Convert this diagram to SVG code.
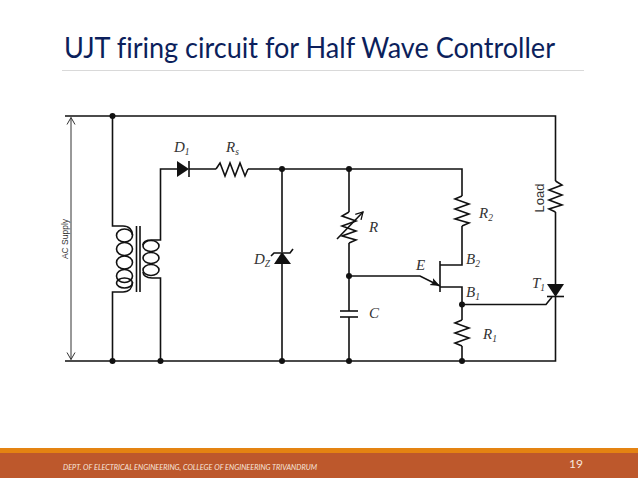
<svg xmlns="http://www.w3.org/2000/svg" width="638" height="478" viewBox="0 0 638 478">
<defs>
<marker id="open" markerWidth="10" markerHeight="10" refX="8" refY="5" orient="auto-start-reverse" markerUnits="userSpaceOnUse"><path d="M1 1L8 5L1 9" fill="none" stroke="#333" stroke-width="1"/></marker>
<marker id="emit" markerWidth="11" markerHeight="10" refX="10" refY="5" orient="auto" markerUnits="userSpaceOnUse"><path d="M0 1L10 5L0 9L2.5 5Z" fill="#111"/></marker>
<marker id="varr" markerWidth="10" markerHeight="10" refX="8" refY="5" orient="auto" markerUnits="userSpaceOnUse"><path d="M1 1L8 5L1 9" fill="none" stroke="#111" stroke-width="1.3"/></marker>
</defs>
<style>
.w{fill:none;stroke:#111;stroke-width:1.6;stroke-linejoin:miter}
.f{fill:#111;stroke:none}
.d{fill:#111;stroke:none}
.l{font-family:"Liberation Serif",serif;font-style:italic;font-size:15px;fill:#333}
.s{font-size:9.500px}
.a{font-family:"Liberation Sans",Arial,sans-serif;fill:#333}
</style>
<rect width="638" height="478" fill="#fff"/>
<g id="header">
<text x="64" y="58" font-family="Lato,'Open Sans',sans-serif" font-size="29" fill="#0c1f5c" textLength="491" lengthAdjust="spacingAndGlyphs" style="font-variant-ligatures:none">UJT firing circuit for Half Wave Controller</text>
<rect x="62" y="70" width="522" height="1" fill="#d9d9d9"/>
</g>
<g id="connectors">
<path class="w" d="M65 116H555.5V181M555.5 212V284M555.5 297V361H65"/>
<path class="w" d="M112.500 116V226H123M123 292H112.500V361"/>
<path class="w" d="M160.500 361V278H152M152 240H160.500V169H177M189 169H216M248 169H462V196M462 226V265H440M440 287H462V320M462 346V361"/>
<path class="w" d="M282 169V252M282 264V361"/>
<path class="w" d="M349 169V212M349 243V311M349 317V361"/>
<path class="w" d="M349 276H420L440 286" marker-end="url(#emit)"/>
<path class="w" d="M462 304.500H546L552 297"/>
<path d="M71 117.500V359.500" fill="none" stroke="#333" stroke-width="1" marker-start="url(#open)" marker-end="url(#open)"/>
</g>
<g id="junctions">
<circle class="d" cx="112.500" cy="116" r="3"/><circle class="d" cx="112.500" cy="361" r="3"/><circle class="d" cx="160.500" cy="361" r="3"/>
<circle class="d" cx="282" cy="169" r="3"/><circle class="d" cx="349" cy="169" r="3"/><circle class="d" cx="349" cy="276" r="3"/>
<circle class="d" cx="282" cy="361" r="3"/><circle class="d" cx="349" cy="361" r="3"/><circle class="d" cx="462" cy="361" r="3"/><circle class="d" cx="462" cy="304.500" r="3"/>
</g>
<g id="ac-supply"><text class="a" font-size="8.500" transform="translate(68 239) rotate(-90)" text-anchor="middle">AC Supply</text></g>
<g id="transformer">
<path class="w" d="M123 226C129 226 132.500 230 132.500 235M123 292C129 292 132.500 288 132.500 282"/>
<ellipse class="w" cx="124.500" cy="235.500" rx="8" ry="6.500"/>
<ellipse class="w" cx="124.500" cy="249" rx="8" ry="6.500"/>
<ellipse class="w" cx="124.500" cy="262.500" rx="8" ry="6.500"/>
<ellipse class="w" cx="124.500" cy="276" rx="8" ry="6.500"/>
<ellipse class="w" cx="124.500" cy="283" rx="8" ry="5"/>
<line class="w" x1="136.500" y1="226" x2="136.500" y2="292"/><line class="w" x1="140" y1="226" x2="140" y2="292"/>
<path class="w" d="M152 240C146 240 143 242 143 245M152 278C146 278 143 275 143 272"/>
<ellipse class="w" cx="151" cy="246" rx="8" ry="5.500"/>
<ellipse class="w" cx="151" cy="258" rx="8" ry="5.500"/>
<ellipse class="w" cx="151" cy="270" rx="8" ry="5.500"/>
</g>
<g id="D1"><path class="f" d="M177 161V177L189 169Z"/><line class="w" x1="189" y1="161" x2="189" y2="177"/>
<text class="l" x="174" y="152">D<tspan class="s" dy="3">1</tspan></text></g>
<g id="Rs"><path class="w" d="M216 169L220 163L225 176L230 163L235 176L240 163L245 176L248 169"/>
<text class="l" x="226" y="152">R<tspan class="s" dy="3">s</tspan></text></g>
<g id="DZ"><path class="f" d="M274 264H291L282 252Z"/><path class="w" d="M271 256L274 253H290L293 249"/>
<text class="l" x="254" y="264">D<tspan class="s" dy="3">Z</tspan></text></g>
<g id="R"><path class="w" d="M349 212L342 216L356 221L342 226L356 231L342 236L356 240L349 243"/>
<path class="w" d="M337 239L363 212" marker-end="url(#varr)"/>
<text class="l" x="369" y="232">R</text></g>
<g id="C"><line class="w" x1="340" y1="311" x2="358" y2="311"/><line class="w" x1="340" y1="317" x2="358" y2="317"/>
<text class="l" x="369" y="318">C</text></g>
<g id="R2"><path class="w" d="M462 196L455 199L469 204L455 209L469 214L455 219L469 223L462 226"/>
<text class="l" x="479" y="218">R<tspan class="s" dy="3">2</tspan></text></g>
<g id="UJT"><line class="w" x1="440" y1="261" x2="440" y2="292"/>
<text class="l" x="416" y="270">E</text>
<text class="l" x="466" y="264">B<tspan class="s" dy="3">2</tspan></text>
<text class="l" x="466" y="297">B<tspan class="s" dy="3">1</tspan></text></g>
<g id="R1"><path class="w" d="M462 320L455 323L469 328L455 333L469 338L455 343L462 346"/>
<text class="l" x="483" y="339">R<tspan class="s" dy="3">1</tspan></text></g>
<g id="Load"><path class="w" d="M555.500 181L562 185L549 190L562 195L549 200L562 205L549 209L555.500 212"/>
<text class="a" font-size="13" transform="translate(544 198) rotate(-90)" text-anchor="middle">Load</text></g>
<g id="T1"><path class="f" d="M547 284H564L555.500 297Z"/><line class="w" x1="547" y1="296.500" x2="564" y2="296.500"/>
<text class="l" x="532" y="288">T<tspan class="s" dy="3">1</tspan></text></g>
<g id="footer">
<rect x="0" y="448" width="638" height="30" fill="#bd582c"/>
<rect x="0" y="448" width="638" height="5" fill="#e48312"/>
<text x="63" y="470" font-family="Lato,'Open Sans',sans-serif" font-style="italic" font-size="8.200" fill="#f7e6dc" textLength="254" lengthAdjust="spacingAndGlyphs">DEPT. OF ELECTRICAL ENGINEERING, COLLEGE OF ENGINEERING TRIVANDRUM</text>
<text x="569" y="468" font-family="Lato,'Open Sans',sans-serif" font-size="12" fill="#f7e6dc">19</text>
</g>
</svg>
